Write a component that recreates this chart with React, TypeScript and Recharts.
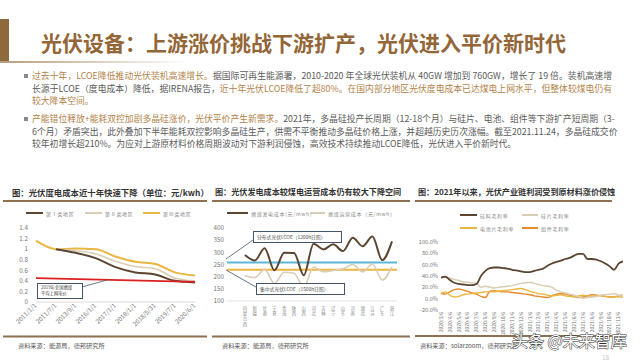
import { LineChart, Line, XAxis, YAxis, ReferenceLine } from 'recharts';

const FONT = '"Noto Sans CJK SC", "Noto Sans", sans-serif';

// chart 1: 光伏度电成本 (元/kwh)
const lcoeDates = ['2011/1/1', '2011/7/1', '2013/9/1', '2016/1/1', '2017/1/1', '2018/1/1', '2018/5/31', '2019/7/1', '2020/6/1'];
const lcoeZone1 = [null, 1.0, 0.93, 0.83, 0.66, 0.56, 0.52, 0.4, 0.37];
const lcoeZone2 = [null, 1.0, 0.97, 0.91, 0.77, 0.67, 0.63, 0.45, 0.4];
const lcoeZone3 = [1.16, 1.0, 1.01, 1.0, 0.86, 0.76, 0.72, 0.56, 0.5];
const coalGridPrice = [0.45, null, null, null, null, null, null, null, 0.38];
const lcoeTicks = [0, 0.2, 0.4, 0.6, 0.8, 1, 1.2, 1.4];

// chart 2: 燃煤成本 vs 光伏LCOE (元/mwh)
const provinces = ['内蒙古西', '新疆', '甘肃', '宁夏', '青海', '陕西', '山西', '河北', '吉林', '辽宁', '山东', '河南', '湖北', '江苏', '广东', '浙江'];
const coalGenCost = [289, 266, 317, 226, 298, 297, 206, 335, 312, 333, 305, 360, 325, 365, 268, 345];
const coalOpsCost = [205, 196, 230, 172, 218, 214, 157, 240, 220, 226, 232, 250, 220, 252, 186, 240];
const distributedLcoe = 258;
const centralizedLcoe = 228;
const costTicks = [100, 150, 200, 250, 300, 350, 400];

// chart 3: 产业链毛利率 (%)
const marginDates = [
  '2020/3/6', '2020/3/21', '2020/4/6', '2020/4/21', '2020/5/6', '2020/5/21', '2020/6/6', '2020/6/21',
  '2020/7/6', '2020/7/21', '2020/8/6', '2020/8/21', '2020/9/6', '2020/9/21', '2020/10/6', '2020/10/21',
  '2020/11/6', '2020/11/21', '2020/12/6', '2020/12/21', '2021/1/6', '2021/1/21', '2021/2/6', '2021/2/21',
  '2021/3/6', '2021/3/21', '2021/4/6', '2021/4/21', '2021/5/6', '2021/5/21', '2021/6/6', '2021/6/21',
  '2021/7/6', '2021/7/21', '2021/8/6', '2021/8/21', '2021/9/6', '2021/9/21', '2021/10/6', '2021/10/21',
  '2021/11/6', '2021/11/21',
];
const polysiliconMargin = [37, 39, 33, 28, 26, 25, 24, 24, 26, 40, 49, 54, 55, 55, 54, 53, 51, 50, 48, 47, 47, 49, 51, 53, 58, 62, 65, 67, 70, 72, 76, 79, 79, 70, 70, 69, 66, 62, 57, 51, 62, 66];
const waferMargin = [37, 38, 36, 34, 32, 30, 29, 28, 27, 20, 22, 20, 19, 20, 21, 22, 23, 25, 27, 28, 29, 27, 25, 23, 22, 20, 15, 12, 10, 8, 6, 3, 1, 2, 3, 4, 6, 7, 8, 9, 6, 5];
const cellMargin = [8, 12, 6, 3, 4, 7, 8, 9, 10, 11, 12, 12, 12, 13, 14, 15, 16, 17, 18, 16, 13, 11, 9, 8, 6, 5, 6, 7, 5, 4, 3, 5, 6, 5, 4, 5, 6, 4, 3, 4, 3, 3];
const moduleMargin = [10, 8, 12, 16, 17, 15, 13, 10, 8, 4, 2, 13, 14, 13, 12, 12, 11, 10, 9, 8, 7, 5, 4, 3, 2, 5, 8, 9, 8, 6, 4, 2, 3, 5, 7, 6, 5, 4, 3, 3, 5, 6];
const marginTicks = [-20, 0, 20, 40, 60, 80, 100];

const lcoeData = lcoeDates.map((d, i) => ({
  date: d, z1: lcoeZone1[i], z2: lcoeZone2[i], z3: lcoeZone3[i], coal: coalGridPrice[i],
}));
const costData = provinces.map((p, i) => ({ name: p, gen: coalGenCost[i], ops: coalOpsCost[i] }));
const marginData = marginDates.map((d, i) => ({
  date: d, poly: polysiliconMargin[i], wafer: waferMargin[i], cell: cellMargin[i], module: moduleMargin[i],
}));

const C = {
  brown: '#5b4530',
  beige: '#d9cdb3',
  gold: '#e9b640',
  orange: '#e8892c',
  red: '#dc1f1f',
  blue: '#5db7d8',
  rule: '#8e7150',
  hi: '#b3834a',
  txt: '#5a5a5a',
};

const yTick = { fontSize: 6.3, fill: '#777' };

const DiagTick = ({ x, y, payload }: any) => (
  <text x={x + 1} y={y + 4} transform={`rotate(-45 ${x + 1} ${y + 4})`} textAnchor="end" fontSize={6.3} fill="#777">
    {payload.value}
  </text>
);

// province names written top to bottom, one character per row
const StackTick = ({ x, y, payload }: any) => (
  <g>
    {[...String(payload.value)].map((ch, i) => (
      <text key={i} x={x} y={y + 9 + i * 5.2} textAnchor="middle" fontSize={4.4} fill="#888">{ch}</text>
    ))}
  </g>
);

const UpTick = ({ x, y, payload }: any) => (
  <text x={x + 1.8} y={y + 2} transform={`rotate(-90 ${x + 1.8} ${y + 2})`} textAnchor="end" fontSize={4.9} fill="#777">
    {payload.value}
  </text>
);

function Key({ x, y, w, color, label }: { x: number; y: number; w: number; color: string; label: string }) {
  return (
    <div style={{ position: 'absolute', left: x, top: y - 4, height: 8, display: 'flex', alignItems: 'center', whiteSpace: 'nowrap' }}>
      <svg width={w} height={4}><line x1={0} y1={2} x2={w} y2={2} stroke={color} strokeWidth={2} /></svg>
      <span style={{ marginLeft: 3, fontSize: 5, letterSpacing: 0.7, color: '#888' }}>{label}</span>
    </div>
  );
}

function Hi({ children }: any) {
  return <span style={{ color: C.hi }}>{children}</span>;
}

function TextLine({ y, full, children }: any) {
  return (
    <div style={{
      position: 'absolute', left: 32, top: y - 5, width: 580, fontSize: 8.8, lineHeight: '10px',
      whiteSpace: 'nowrap', color: C.txt, textAlignLast: full ? 'justify' : 'left', textAlign: full ? 'justify' : 'left',
    }}>
      {children}
    </div>
  );
}

function Box({ x, y, w, h, lines, size }: any) {
  return (
    <div style={{
      position: 'absolute', left: x, top: y, width: w, height: h, boxSizing: 'border-box', border: '1px solid #44546a',
      background: '#fff', fontSize: size, lineHeight: `${size + 1.5}px`, color: '#444', padding: '1px 3px', whiteSpace: 'nowrap',
      display: 'flex', flexDirection: 'column', justifyContent: 'center',
    }}>
      {lines.map((l: string) => <div key={l}>{l}</div>)}
    </div>
  );
}

export default function App() {
  return (
    <div style={{ position: 'absolute', left: 0, top: 0, width: 640, height: 360, background: '#fff', overflow: 'hidden', fontFamily: FONT }}>
      {/* header */}
      <svg width={640} height={360} style={{ position: 'absolute', left: 0, top: 0 }}>
        <defs>
          <linearGradient id="hdr" x1="0" x2="1" y1="0" y2="0">
            <stop offset="0" stopColor="#b89c7a" />
            <stop offset="1" stopColor="#ffffff" />
          </linearGradient>
        </defs>
        <rect x={0} y={19} width={9} height={43} fill="#8f693b" />
        <rect x={0} y={61} width={190} height={2} fill="url(#hdr)" />
        <rect x={24} y={74} width={4} height={4} fill="#8a8a8a" />
        <rect x={24} y={117} width={4} height={4} fill="#8a8a8a" />
        {/* chart title rules */}
        <line x1={3} x2={207} y1={201} y2={201} stroke={C.rule} strokeWidth={2} />
        <line x1={212} x2={410} y1={201} y2={201} stroke={C.rule} strokeWidth={2} />
        <line x1={415} x2={612} y1={201} y2={201} stroke={C.rule} strokeWidth={2} />
        <line x1={3} x2={207} y1={336.5} y2={336.5} stroke={C.rule} strokeWidth={2} />
        <line x1={212} x2={410} y1={336.5} y2={336.5} stroke={C.rule} strokeWidth={2} />
        <line x1={415} x2={612} y1={336} y2={336} stroke={C.rule} strokeWidth={2} />
      </svg>
      <div style={{ position: 'absolute', left: 41, top: 29, fontSize: 21, lineHeight: '26px', fontWeight: 700, color: '#936637', whiteSpace: 'nowrap' }}>
        光伏设备：上游涨价挑战下游扩产，光伏进入平价新时代
      </div>

      <TextLine y={76} full><Hi>过去十年，LCOE降低推动光伏装机高速增长。</Hi>据国际可再生能源署，2010-2020 年全球光伏装机从 40GW 增加到 760GW，增长了 19 倍。装机高速增</TextLine>
      <TextLine y={88.5} full>长源于LCOE（度电成本）降低，据IRENA报告，<Hi>近十年光伏LCOE降低了超80%。在国内部分地区光伏度电成本已达煤电上网水平，但整体较煤电仍有</Hi></TextLine>
      <TextLine y={101}><Hi>较大降本空间。</Hi></TextLine>
      <TextLine y={119} full><Hi>产能错位释放+能耗双控加剧多晶硅涨价，光伏平价产生新需求。</Hi>2021年，多晶硅投产长周期（12-18个月）与硅片、电池、组件等下游扩产短周期（3-</TextLine>
      <TextLine y={131.5} full>6个月）矛盾突出，此外叠加下半年能耗双控影响多晶硅生产，供需不平衡推动多晶硅价格上涨，并超越历史历次涨幅。截至2021.11.24，多晶硅成交价</TextLine>
      <TextLine y={144}>较年初增长超210%。为应对上游原材料价格周期波动对下游利润侵蚀，高效技术持续推动LCOE降低，光伏进入平价新时代。</TextLine>

      {/* chart titles */}
      <div style={{ position: 'absolute', left: 12, top: 186, fontSize: 8.4, fontWeight: 700, color: '#333', whiteSpace: 'nowrap' }}>图：光伏度电成本近十年快速下降（单位：元/kwh）</div>
      <div style={{ position: 'absolute', left: 215, top: 186, fontSize: 8.1, fontWeight: 700, color: '#333', whiteSpace: 'nowrap' }}>图：光伏发电成本较煤电运营成本仍有较大下降空间</div>
      <div style={{ position: 'absolute', left: 418, top: 186, fontSize: 8.1, fontWeight: 700, color: '#333', whiteSpace: 'nowrap' }}>图：2021年以来，光伏产业链利润受到原材料涨价侵蚀</div>

      {/* legends */}
      <Key x={26} y={213} w={17} color={C.brown} label="第Ⅰ类地区" />
      <Key x={85} y={213} w={17} color={C.beige} label="第Ⅱ类地区" />
      <Key x={143} y={213} w={17} color={C.gold} label="第Ⅲ类地区" />
      <Key x={227} y={213} w={21} color={C.brown} label="燃煤发电成本(元/mwh)" />
      <Key x={310} y={213} w={15} color={C.beige} label="燃煤运营成本（元/mwh）" />
      <Key x={460} y={215} w={17} color={C.brown} label="硅料毛利率" />
      <Key x={522} y={215} w={16} color={C.beige} label="硅片毛利率" />
      <Key x={460} y={228} w={17} color={C.gold} label="电池片毛利率" />
      <Key x={522} y={228} w={16} color={C.orange} label="组件毛利率" />

      {/* chart 1 */}
      <div style={{ position: 'absolute', left: 0, top: 218 }}>
        <LineChart width={205} height={114} data={lcoeData} margin={{ top: 10, right: 10, bottom: 0, left: 0 }}>
          <XAxis dataKey="date" interval={0} height={30} tickSize={0} tickMargin={0} tick={<DiagTick />} axisLine={{ stroke: '#d9d9d9' }} tickLine={false} />
          <YAxis width={36} domain={[0, 1.4]} ticks={lcoeTicks} interval={0} tick={yTick} tickLine={false} axisLine={false} tickSize={0} tickMargin={8} />
          <Line type="monotone" dataKey="z3" stroke={C.gold} strokeWidth={2} dot={false} isAnimationActive={false} />
          <Line type="monotone" dataKey="z2" stroke={C.beige} strokeWidth={1.6} dot={false} isAnimationActive={false} />
          <Line type="monotone" dataKey="z1" stroke={C.brown} strokeWidth={2} dot={false} isAnimationActive={false} />
          <Line type="linear" dataKey="coal" stroke={C.red} strokeWidth={1.8} dot={false} connectNulls isAnimationActive={false} />
        </LineChart>
      </div>

      {/* chart 2 */}
      <div style={{ position: 'absolute', left: 205, top: 218 }}>
        <LineChart width={197} height={113} data={costData} margin={{ top: 10, right: 5, bottom: 0, left: 0 }}>
          <XAxis dataKey="name" interval={0} height={30} padding={{ left: 18, right: 5 }} tickSize={0} tickMargin={0} tick={<StackTick />} axisLine={{ stroke: '#e3e3e3' }} tickLine={false} />
          <YAxis width={22} domain={[100, 400]} ticks={costTicks} interval={0} tick={yTick} tickLine={false} axisLine={false} tickSize={0} tickMargin={3} />
          <ReferenceLine y={distributedLcoe} stroke={C.blue} strokeWidth={2} />
          <ReferenceLine y={centralizedLcoe} stroke={C.gold} strokeWidth={2} />
          <Line type="monotone" dataKey="ops" stroke={C.beige} strokeWidth={1.6} dot={false} isAnimationActive={false} />
          <Line type="monotone" dataKey="gen" stroke={C.brown} strokeWidth={2} dot={false} isAnimationActive={false} />
        </LineChart>
      </div>

      {/* chart 3 */}
      <div style={{ position: 'absolute', left: 413, top: 232 }}>
        <LineChart width={215} height={105} data={marginData} margin={{ top: 10, right: 5, bottom: 0, left: 0 }}>
          <XAxis dataKey="date" interval={1} height={27} tickSize={0} tickMargin={0} tick={<UpTick />} axisLine={false} tickLine={false} />
          <YAxis width={28} domain={[-20, 100]} ticks={marginTicks} interval={0} tickFormatter={(v: number) => `${v.toFixed(1)}%`} tick={{ fontSize: 5.6, fill: '#777' }} tickLine={false} axisLine={false} tickSize={0} tickMargin={3} />
          <Line type="monotone" dataKey="module" stroke={C.orange} strokeWidth={1.4} dot={false} isAnimationActive={false} />
          <Line type="monotone" dataKey="cell" stroke={C.gold} strokeWidth={1.4} dot={false} isAnimationActive={false} />
          <Line type="monotone" dataKey="wafer" stroke={C.beige} strokeWidth={1.5} dot={false} isAnimationActive={false} />
          <Line type="monotone" dataKey="poly" stroke={C.brown} strokeWidth={1.8} dot={false} isAnimationActive={false} />
        </LineChart>
      </div>

      {/* callouts */}
      <svg width={640} height={360} style={{ position: 'absolute', left: 0, top: 0, pointerEvents: 'none' }}>
        <line x1={82} y1={287} x2={107} y2={280} stroke="#44546a" strokeWidth={0.8} />
        <line x1={253} y1={240} x2={226} y2={259} stroke="#44546a" strokeWidth={0.8} />
        <line x1={256} y1={287} x2={226} y2={270} stroke="#44546a" strokeWidth={0.8} />
      </svg>
      <Box x={37} y={283} w={46} h={16} size={4.3} lines={['2019年全国燃煤', '平均上网电价']} />
      <Box x={253} y={231} w={89} h={12} size={4.8} lines={['分布式光伏LCOE（1200h日照）']} />
      <Box x={256} y={283} w={89} h={12} size={4.8} lines={['集中式光伏LCOE（1500h日照）']} />

      {/* sources */}
      <div style={{ position: 'absolute', left: 18, top: 341, fontSize: 6.2, color: '#555', whiteSpace: 'nowrap' }}>资料来源：能源局，德邦研究所</div>
      <div style={{ position: 'absolute', left: 222, top: 341, fontSize: 6.2, color: '#555', whiteSpace: 'nowrap' }}>资料来源：能源局，德邦研究所</div>
      <div style={{ position: 'absolute', left: 420, top: 341, fontSize: 6.2, color: '#555', whiteSpace: 'nowrap' }}>资料来源：solarzoom，德邦研究所</div>

      <svg width={640} height={360} style={{ position: 'absolute', left: 0, top: 0, pointerEvents: 'none' }}>
        <text x={602} y={359.5} fontSize={6.5} fill="#c8c8c8" fontFamily={FONT}>18</text>
        <text x={512} y={347} fontSize={16} fill="#fff" stroke="#333" strokeWidth={1} paintOrder="stroke" fontFamily={FONT}>头条 @未来智库</text>
      </svg>
    </div>
  );
}
